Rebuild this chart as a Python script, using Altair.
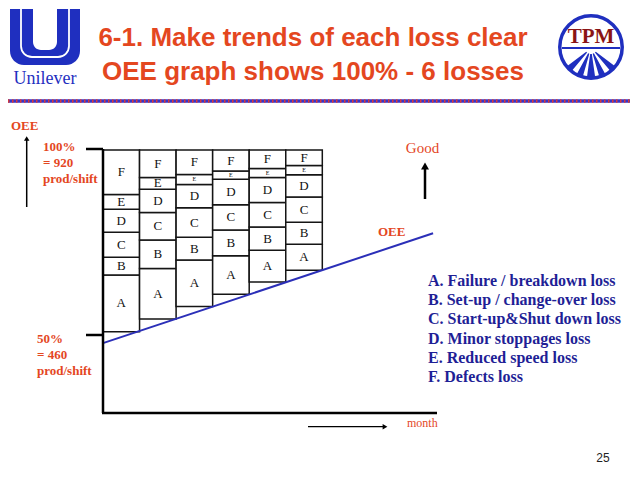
import altair as alt
import pandas as pd

# ---------------- data ----------------
months = [1, 2, 3, 4, 5, 6]
segments = ["OEE", "A", "B", "C", "D", "E", "F"]
oee    = [50.9, 54.3, 57.7, 61.0, 64.3, 67.5]
loss_a = [15.3, 13.7, 12.6, 10.4, 8.6, 7.0]
loss_b = [4.8, 7.7, 6.1, 7.0, 6.3, 6.0]
loss_c = [6.8, 7.4, 8.0, 6.8, 6.6, 6.8]
loss_d = [6.2, 6.3, 6.3, 6.9, 6.8, 6.0]
loss_e = [4.0, 3.2, 2.7, 2.2, 2.4, 2.5]
loss_f = [12.0, 7.4, 6.6, 5.7, 5.0, 4.2]
trend_month = [0, 9.03]
trend_oee = [47.8, 77.5]

title_lines = ["6-1. Make trends of each loss clear", "OEE graph shows 100% - 6 losses"]
legend_lines = [
    "A. Failure / breakdown loss",
    "B. Set-up / change-over loss",
    "C. Start-up&Shut  down loss",
    "D. Minor stoppages loss",
    "E. Reduced speed loss",
    "F. Defects loss",
]
top_label = ["100%", "= 920", "prod/shift"]
mid_label = ["50%", "= 460", "prod/shift"]

# ---------------- tables ----------------
series = [oee, loss_a, loss_b, loss_c, loss_d, loss_e, loss_f]
rows = []
for i, m in enumerate(months):
    for k, (seg, vals) in enumerate(zip(segments, series)):
        rows.append({"month": m, "seg": seg, "order": k, "value": vals[i]})
df = pd.DataFrame(rows)
trend_df = pd.DataFrame({"month": trend_month, "oee": trend_oee})
one = pd.DataFrame({"k": [0]})

W, H = 622, 462
xs = alt.Scale(domain=[-2.599, 14.418], nice=False, zero=False)
ys = alt.Scale(domain=[13.514, 138.378], nice=False, zero=False)

RED = "#e4471f"
NAVY = "#1f1f96"
BLUE = "#1f2fbf"
SERIF = "Liberation Serif"
SANS = "Liberation Sans"


def P(v):  # page px -> plot px
    return v - 8


def txt(text, x, y, size, color, weight="normal", font=SERIF, align="left", lh=None):
    kw = dict(text=text, fontSize=size, color=color, fontWeight=weight, font=font,
              align=align, baseline="alphabetic")
    if lh:
        kw["lineHeight"] = lh
    return alt.Chart(one).mark_text(**kw).encode(x=alt.value(P(x)), y=alt.value(P(y)))


def rule(x1, y1, x2, y2, color="black", w=1.5, dash=None):
    kw = dict(color=color, strokeWidth=w)
    if dash:
        kw["strokeDash"] = dash
    return alt.Chart(one).mark_rule(**kw).encode(
        x=alt.value(P(x1)), y=alt.value(P(y1)), x2=alt.value(P(x2)), y2=alt.value(P(y2)))


def head(x, y, shape, size, color="black"):
    return alt.Chart(one).mark_point(shape=shape, size=size, filled=True, color=color, opacity=1,
                                     strokeWidth=0).encode(x=alt.value(P(x)), y=alt.value(P(y)))


def box(x1, y1, x2, y2, **kw):
    return alt.Chart(one).mark_rect(**kw).encode(
        x=alt.value(P(x1)), y=alt.value(P(y1)), x2=alt.value(P(x2)), y2=alt.value(P(y2)))


# ---------------- stacked loss columns ----------------
base = (
    alt.Chart(df)
    .transform_stack(stack="value", groupby=["month"], as_=["v0", "v1"],
                     sort=[alt.SortField(field="order", order="ascending")])
    .transform_filter("datum.seg != 'OEE'")
    .transform_calculate(m0="datum.month - 1", mc="datum.month - 0.5", vm="(datum.v0 + datum.v1) / 2")
)
bars = base.mark_rect(fill="white", stroke="#151515", strokeWidth=1.5).encode(
    x=alt.X("m0:Q", scale=xs, axis=None), x2="month:Q",
    y=alt.Y("v0:Q", scale=ys, axis=None), y2="v1:Q")
labels = base.mark_text(font=SERIF, color="#111").encode(
    x=alt.X("mc:Q", scale=xs, axis=None),
    y=alt.Y("vm:Q", scale=ys, axis=None),
    text="seg:N",
    size=alt.condition("datum.value < 3", alt.value(6), alt.value(13)))

trend = alt.Chart(trend_df).mark_line(color="#2b2fb8", strokeWidth=2).encode(
    x=alt.X("month:Q", scale=xs, axis=None), y=alt.Y("oee:Q", scale=ys, axis=None))

layers = [bars, labels, trend]

# axes
layers += [
    rule(103, 149, 103, 413, w=2.5),
    rule(102, 413, 437, 413, w=2.5),
    rule(86, 149, 103, 149, w=2.5),
    rule(86, 335, 103, 335, w=2.5),
]
# arrows
layers += [
    rule(26.7, 207, 26.7, 140, w=1.5), head(26.7, 138.5, "triangle-up", 30),
    rule(425, 199, 425, 168, w=2.5), head(425, 166, "triangle-up", 64),
    rule(308, 426.7, 383, 426.7, w=1.3), head(385, 426.7, "triangle-right", 30),
]
# texts of the chart
layers += [
    txt("OEE", 11, 129.5, 13, RED, "bold"),
    txt(top_label, 43, 151, 13, RED, "bold", lh=16),
    txt(mid_label, 37, 342.5, 13, RED, "bold", lh=16),
    txt("Good", 422.5, 153, 15, RED, align="center"),
    txt("OEE", 378, 236, 13, RED, "bold"),
    txt("month", 407, 427, 12, RED),
    txt(legend_lines, 428, 286, 16, NAVY, "bold", lh=19.2),
]
# header
layers += [
    txt(title_lines[0], 313, 46, 26, RED, "bold", font=SANS, align="center"),
    txt(title_lines[1], 313, 80, 26, RED, "bold", font=SANS, align="center"),
    rule(8, 101, 630, 101, color="#3535c8", w=3.5),
    rule(8, 101, 630, 101, color="#d83a3a", w=3.5, dash=[1.5, 2.5]),
    txt("25", 603, 462, 12, "#222", font=SANS, align="center"),
]
# Unilever logo
layers += [
    box(10, 9, 80, 65, fill=BLUE, cornerRadiusBottomLeft=14, cornerRadiusBottomRight=14),
    box(33, 4, 57, 50, fill="white", cornerRadiusBottomLeft=8, cornerRadiusBottomRight=8),
    box(21, 0, 69, 57, fill="transparent", stroke="white", strokeWidth=1.8,
        cornerRadiusBottomLeft=11, cornerRadiusBottomRight=11),
    txt("Unilever", 45, 84, 18, BLUE, align="center"),
]
# TPM logo
rays = pd.DataFrame({"t0": [2.22, 2.64, 3.00, 3.42, 3.84], "t1": [2.44, 2.86, 3.28, 3.64, 4.06]})
layers += [
    alt.Chart(rays).mark_arc(color=BLUE, radius=31, radius2=6).encode(
        theta=alt.Theta("t0:Q", scale=None), theta2="t1:Q",
        x=alt.value(P(591)), y=alt.value(P(48))),
    rule(562, 48, 620, 48, color=BLUE, w=2),
    alt.Chart(one).mark_point(shape="circle", size=3900, filled=False, color=BLUE, strokeWidth=3.5,
                              opacity=1).encode(x=alt.value(P(591)), y=alt.value(P(47))),
    txt("TPM", 591, 43, 21, "#8a1414", "bold", font="Liberation Sans Narrow", align="center"),
]

chart = alt.layer(*layers).properties(width=W, height=H, padding=0, autosize="none").configure_view(strokeWidth=0)
chart.save("out.html", embed_options={"renderer": "svg", "actions": False})
